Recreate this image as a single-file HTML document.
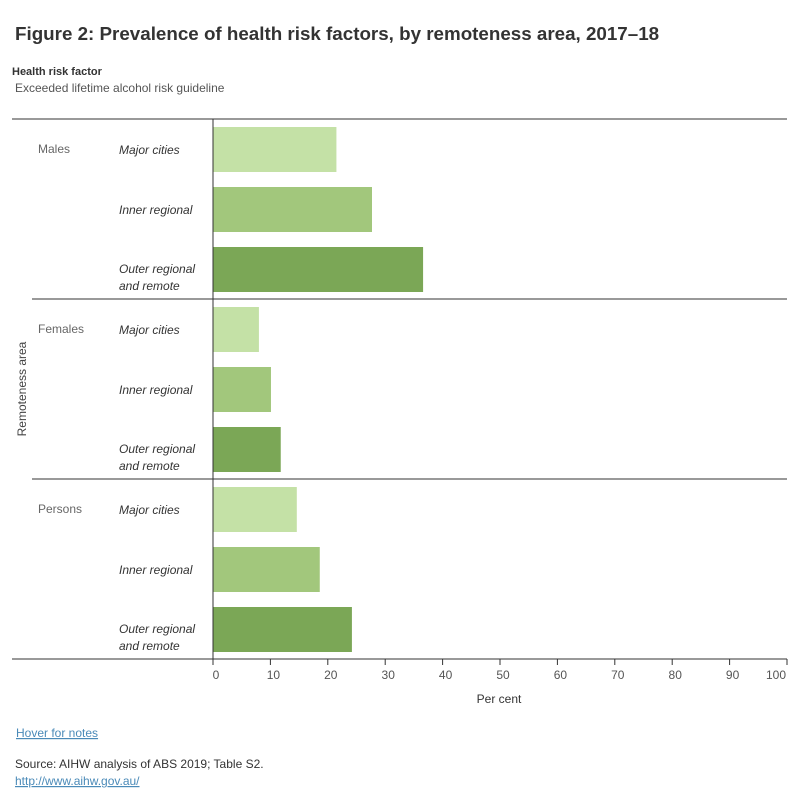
<!DOCTYPE html>
<html><head><meta charset="utf-8"><style>
body{margin:0;background:#fff;width:800px;height:800px;overflow:hidden;font-family:"Liberation Sans",sans-serif;}
</style></head><body>
<svg width="800" height="800" xmlns="http://www.w3.org/2000/svg" font-family="Liberation Sans, sans-serif">
<text x="15" y="40" font-size="18.8" font-weight="bold" fill="#333">Figure 2: Prevalence of health risk factors, by remoteness area, 2017–18</text>
<text x="12" y="75" font-size="11" font-weight="bold" fill="#333">Health risk factor</text>
<text x="15" y="92" font-size="12" fill="#555">Exceeded lifetime alcohol risk guideline</text>
<text transform="translate(26,389) rotate(-90)" text-anchor="middle" font-size="12" fill="#444">Remoteness area</text>
<g id="plot"></g>
<text x="499" y="703" text-anchor="middle" font-size="12" fill="#333">Per cent</text>
<text x="16" y="737" font-size="12" fill="#4a8ab8" text-decoration="underline">Hover for notes</text>
<text x="15" y="768" font-size="12" fill="#333">Source:  AIHW analysis of ABS 2019; Table S2.</text>
<text x="15" y="785" font-size="12" fill="#4a8ab8" text-decoration="underline">http://www.aihw.gov.au/</text>
</svg>
<script>
const groups=["Males","Females","Persons"];
const areas=["Major cities","Inner regional","Outer regional|and remote"];
const males=[21.5,27.7,36.6];
const females=[8.0,10.1,11.8];
const persons=[14.6,18.6,24.2];
const ticks=[0,10,20,30,40,50,60,70,80,90,100];
const series=[males,females,persons];
const colors=["#c4e1a6","#a2c77c","#7ba756"];
const NS="http://www.w3.org/2000/svg";
const g=document.getElementById('plot');
const x=v=>213+v*5.74;
const top0=119,secH=180,rowH=60;
function mk(t,a){const e=document.createElementNS(NS,t);for(const k in a)e.setAttribute(k,a[k]);g.appendChild(e);return e;}
groups.forEach((gr,i)=>{
  const sy=top0+i*secH;
  const ln=mk('line',{x1:i==0?12:32,x2:787,y1:sy,y2:sy,stroke:'#333','stroke-width':1});
  
  
  const gt=mk('text',{x:38,y:sy+34,'font-size':12,fill:'#666'});gt.textContent=gr;
  
  
  areas.forEach((a,j)=>{
    const ry=sy+j*rowH;
    const r=mk('rect',{x:x(0),y:ry+8,width:x(series[i][j])-x(0),height:45,fill:colors[j]});
    
    
    const parts=a.split('|');
    const t=mk('text',{x:119,y:parts.length>1?ry+34:ry+35,'font-size':12,'font-style':'italic',fill:'#333'});
    
    
    parts.forEach((p,k)=>{const ts=document.createElementNS(NS,'tspan');ts.setAttribute('x',119);if(k>0)ts.setAttribute('dy',17);ts.textContent=p;t.appendChild(ts);});
  });
});
const bl=mk('line',{x1:12,x2:787,y1:659,y2:659,stroke:'#333'});


const vl=mk('line',{x1:213,x2:213,y1:119,y2:665,stroke:'#333'});


ticks.forEach(v=>{
  const tl=mk('line',{x1:x(v),x2:x(v),y1:659,y2:665,stroke:'#333'});
  
  
  const tt=mk('text',{x:x(v)+(v==100?-1:3),y:679,'text-anchor':v==100?'end':'middle','font-size':12,fill:'#555'});
  tt.textContent=v;
  
  
});
</script>
</body></html>
